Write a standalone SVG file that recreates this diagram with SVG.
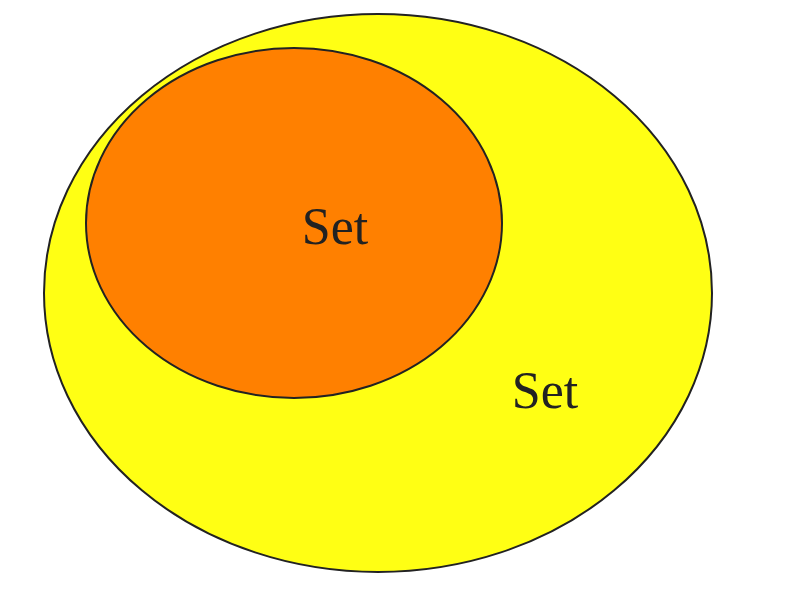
<svg xmlns="http://www.w3.org/2000/svg" width="800" height="600" viewBox="0 0 800 600">
<style>
.e{stroke:#222;stroke-width:2}
.t{font-family:"Liberation Serif","DejaVu Serif",serif;font-size:52px;fill:#222;text-anchor:middle}
</style>
<rect width="800" height="600" fill="#fff"/>
<g id="outer"><ellipse class="e" cx="378" cy="293" rx="334" ry="279" fill="#ffff14"/><text class="t" x="545" y="408">Set</text></g>
<g id="inner"><ellipse class="e" cx="294" cy="223" rx="208" ry="175" fill="#ff8000"/><text class="t" x="335" y="244">Set</text></g>
<g id="connectors"/>
</svg>
